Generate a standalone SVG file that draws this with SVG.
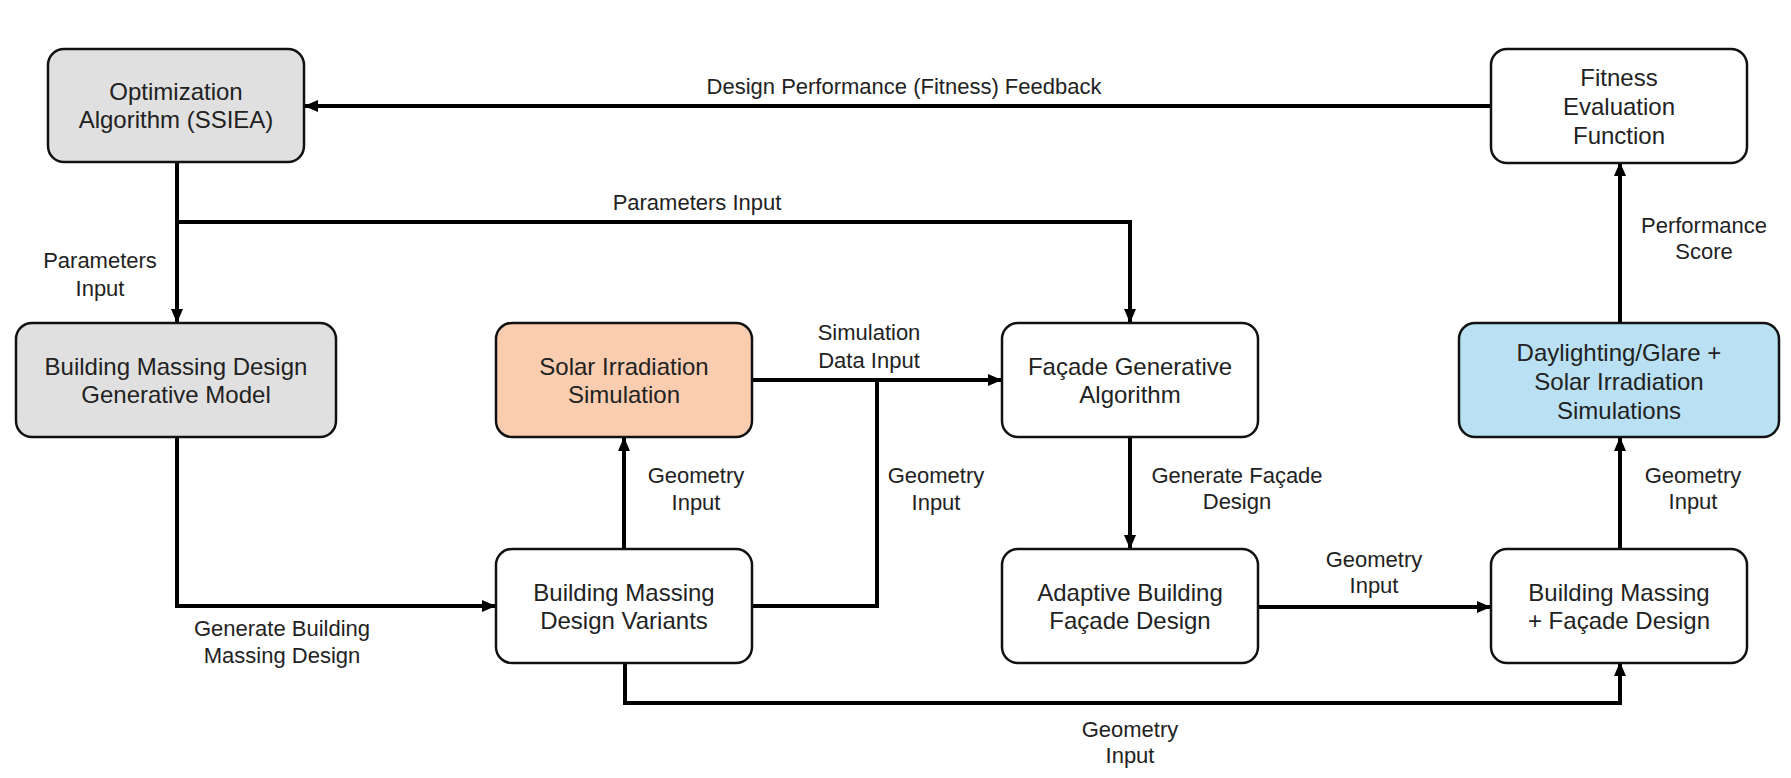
<svg xmlns="http://www.w3.org/2000/svg" width="1791" height="778" viewBox="0 0 1791 778">
<defs>
<style>
.box{stroke:#111;stroke-width:2.5;fill:#fff}
.gray{fill:#e0e0e0}
.orange{fill:#fbcdb0}
.blue{fill:#b9e0f3}
.bt{font-family:"Liberation Sans",Arial,sans-serif;font-size:24px;fill:#222;text-anchor:middle}
.lt{font-family:"Liberation Sans",Arial,sans-serif;font-size:22px;fill:#222;text-anchor:middle}
.c{fill:none;stroke:#000;stroke-width:4}
.a{marker-end:url(#arr)}
</style>
<marker id="arr" markerUnits="userSpaceOnUse" markerWidth="14" markerHeight="12" refX="14" refY="6" orient="auto">
<path d="M0,0 L14,6 L0,12 z" fill="#000"/>
</marker>
</defs>
<rect width="1791" height="778" fill="#fff"/>
<g id="connectors">
<path class="c a" d="M1491,106 H304"/>
<path class="c a" d="M177,162 V323"/>
<path class="c a" d="M177,222 H1130 V323"/>
<path class="c a" d="M177,437 V606 H496"/>
<path class="c a" d="M624,549 V437"/>
<path class="c a" d="M752,380 H1002"/>
<path class="c" d="M752,606 H877 V380"/>
<path class="c a" d="M1130,437 V549"/>
<path class="c a" d="M1258,607 H1491"/>
<path class="c a" d="M625,662 V703 H1620 V662"/>
<path class="c a" d="M1620,549 V437"/>
<path class="c a" d="M1620,323 V162"/>
</g>
<g id="labels">
<text class="lt" x="904" y="94">Design Performance (Fitness) Feedback</text>
<text class="lt" x="697" y="210">Parameters Input</text>
<text class="lt" x="100" y="268">Parameters</text>
<text class="lt" x="100" y="296">Input</text>
<text class="lt" x="282" y="636">Generate Building</text>
<text class="lt" x="282" y="663">Massing Design</text>
<text class="lt" x="869" y="340">Simulation</text>
<text class="lt" x="869" y="368">Data Input</text>
<text class="lt" x="696" y="483">Geometry</text>
<text class="lt" x="696" y="510">Input</text>
<text class="lt" x="936" y="483">Geometry</text>
<text class="lt" x="936" y="510">Input</text>
<text class="lt" x="1237" y="483">Generate Façade</text>
<text class="lt" x="1237" y="509">Design</text>
<text class="lt" x="1374" y="567">Geometry</text>
<text class="lt" x="1374" y="593">Input</text>
<text class="lt" x="1130" y="737">Geometry</text>
<text class="lt" x="1130" y="763">Input</text>
<text class="lt" x="1693" y="483">Geometry</text>
<text class="lt" x="1693" y="509">Input</text>
<text class="lt" x="1704" y="233">Performance</text>
<text class="lt" x="1704" y="259">Score</text>
</g>
<g id="optimization">
<rect class="box gray" x="48" y="49" width="256" height="113" rx="16"/>
<text class="bt" x="176" y="100">Optimization</text>
<text class="bt" x="176" y="128">Algorithm (SSIEA)</text>
</g>
<g id="fitness">
<rect class="box" x="1491" y="49" width="256" height="114" rx="16"/>
<text class="bt" x="1619" y="86">Fitness</text>
<text class="bt" x="1619" y="115">Evaluation</text>
<text class="bt" x="1619" y="144">Function</text>
</g>
<g id="generative-model">
<rect class="box gray" x="16" y="323" width="320" height="114" rx="16"/>
<text class="bt" x="176" y="375">Building Massing Design</text>
<text class="bt" x="176" y="403">Generative Model</text>
</g>
<g id="solar">
<rect class="box orange" x="496" y="323" width="256" height="114" rx="16"/>
<text class="bt" x="624" y="375">Solar Irradiation</text>
<text class="bt" x="624" y="403">Simulation</text>
</g>
<g id="facade-generative">
<rect class="box" x="1002" y="323" width="256" height="114" rx="16"/>
<text class="bt" x="1130" y="375">Façade Generative</text>
<text class="bt" x="1130" y="403">Algorithm</text>
</g>
<g id="daylighting">
<rect class="box blue" x="1459" y="323" width="320" height="114" rx="16"/>
<text class="bt" x="1619" y="361">Daylighting/Glare +</text>
<text class="bt" x="1619" y="390">Solar Irradiation</text>
<text class="bt" x="1619" y="419">Simulations</text>
</g>
<g id="variants">
<rect class="box" x="496" y="549" width="256" height="114" rx="16"/>
<text class="bt" x="624" y="601">Building Massing</text>
<text class="bt" x="624" y="629">Design Variants</text>
</g>
<g id="adaptive">
<rect class="box" x="1002" y="549" width="256" height="114" rx="16"/>
<text class="bt" x="1130" y="601">Adaptive Building</text>
<text class="bt" x="1130" y="629">Façade Design</text>
</g>
<g id="massing-facade">
<rect class="box" x="1491" y="549" width="256" height="114" rx="16"/>
<text class="bt" x="1619" y="601">Building Massing</text>
<text class="bt" x="1619" y="629">+ Façade Design</text>
</g>
</svg>
